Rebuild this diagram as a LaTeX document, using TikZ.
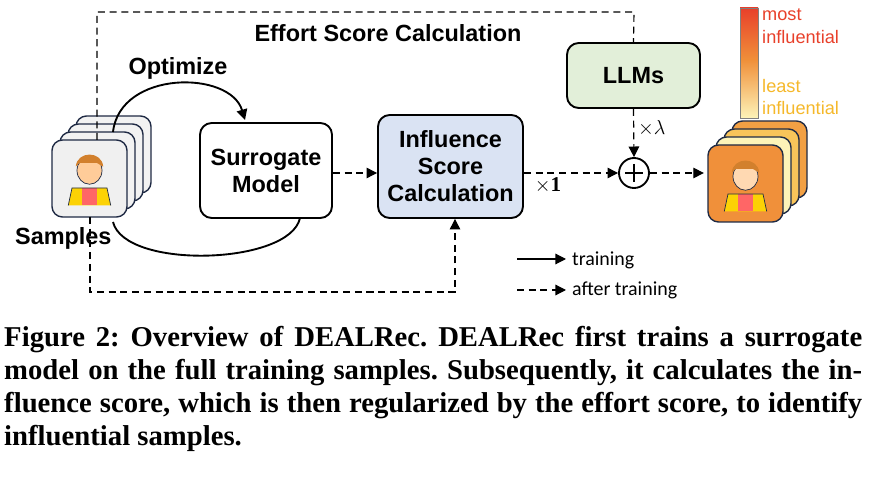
\documentclass[tikz,border=0pt]{standalone}
\usepackage{fontspec}
\setmainfont{Liberation Serif}
\setsansfont{Liberation Sans}
\newfontfamily\legfont{Carlito}
\usetikzlibrary{arrows.meta,calc}
\definecolor{navy}{HTML}{1F2A44}
\definecolor{llmg}{HTML}{E2EFD9}
\definecolor{infb}{HTML}{DAE3F3}
\definecolor{orgA}{HTML}{F0903A}
\definecolor{orgB}{HTML}{F8C45A}
\definecolor{orgC}{HTML}{FDF3B8}
\definecolor{mostc}{HTML}{E8402A}
\definecolor{leastc}{HTML}{F5B82A}
\begin{document}
\begin{tikzpicture}[x=0.03cm,y=-0.03cm,
  lbl/.style={font=\sffamily\bfseries\fontsize{20}{23}\selectfont},
  boxn/.style={draw=black,line width=1.6pt,rounded corners=10pt,align=center,lbl},
  card/.style={draw=navy,line width=1.2pt,rounded corners=9pt},
  dsh/.style={dashed,line width=1pt,dash pattern=on 6pt off 4pt},
  arr/.style={-{Triangle[length=9pt,width=9pt]}},
  legtxt/.style={font=\legfont\fontsize{17}{19}\selectfont,anchor=west}]
\useasboundingbox (0,0) rectangle (882,486);
% samples stack
\foreach \i in {3,2,1}{
  \draw[card,fill=gray!10] (52+8*\i,140-8*\i) rectangle (127+8*\i,217-8*\i);}
\draw[card,fill=gray!12] (52,140) rectangle (127,217);
\node (smp) at (89.5,178.5) {};
\begin{scope}[shift={(89.5,178)},scale=1.25]
\fill[yellow!70!orange] (-17,22) -- (-14,8) -- (14,8) -- (17,22) -- cycle;
\fill[red!60] (-6,8) -- (6,8) -- (6,22) -- (-6,22) -- cycle;
\draw[navy,line width=0.6pt] (-17,22) -- (-14,8) -- (14,8) -- (17,22);
\fill[orange!40!white] (0,-6) ellipse[x radius=10,y radius=11];
\draw[navy,line width=0.6pt] (0,-6) ellipse[x radius=10,y radius=11];
\fill[brown!70!orange] (-11,-9) .. controls (-10,-22) and (10,-22) .. (11,-9) -- (6,-12) -- (-8,-12) -- cycle;
\end{scope}
\node[lbl,anchor=west] (smplbl) at (11,238) {Samples};
% surrogate and influence
\node[boxn,fill=white,minimum width=132*0.03cm,minimum height=95*0.03cm] (sur) at (266,170.5) {Surrogate\\Model};
\node[boxn,fill=infb,minimum width=145*0.03cm,minimum height=103*0.03cm] (inf) at (450.5,166.5) {Influence\\Score\\Calculation};
\node[boxn,fill=llmg,minimum width=133*0.03cm,minimum height=65*0.03cm] (llm) at (633.5,75.5) {LLMs};
\node[circle,draw,line width=1.6pt,minimum size=30*0.03cm,inner sep=0] (plus) at (634,173) {};
\draw[line width=2pt] ($(plus)+(-9,0)$) -- ($(plus)+(9,0)$) ($(plus)+(0,-9)$) -- ($(plus)+(0,9)$);
% output stack
\foreach \i/\c in {3/orgA!70!orgB,2/orgB,1/orgC}{
  \draw[card,fill=\c] (708+8*\i,145-8*\i) rectangle (783+8*\i,222-8*\i);}
\draw[card,fill=orgA] (708,145) rectangle (783,222);
\node (out) at (708,173) {};
\begin{scope}[shift={(745.5,184)},scale=1.25]
\fill[yellow!70!orange] (-17,22) -- (-14,8) -- (14,8) -- (17,22) -- cycle;
\fill[red!60] (-6,8) -- (6,8) -- (6,22) -- (-6,22) -- cycle;
\draw[navy,line width=0.6pt] (-17,22) -- (-14,8) -- (14,8) -- (17,22);
\fill[orange!30!white] (0,-6) ellipse[x radius=10,y radius=11];
\draw[navy,line width=0.6pt] (0,-6) ellipse[x radius=10,y radius=11];
\fill[brown!70!orange] (-11,-9) .. controls (-10,-22) and (10,-22) .. (11,-9) -- (6,-12) -- (-8,-12) -- cycle;
\end{scope}
% colorbar
\shade[top color=mostc,bottom color=orgA] (740,8) rectangle (758,60);
\shade[top color=orgA,bottom color=orgC] (740,60) rectangle (758,118);
\draw[gray,line width=0.6pt] (740,8) rectangle (758,118);
\node[font=\sffamily\fontsize{15.5}{19}\selectfont,text=mostc,align=left,anchor=north west,inner sep=0] (mostl) at (762,9) {most\\influential};
\node[font=\sffamily\fontsize{15.5}{19}\selectfont,text=leastc,align=left,anchor=north west,inner sep=0] (leastl) at (762,79) {least\\influential};
% optimize loop
\node[lbl] (opt) at (178,68) {Optimize};
\draw[line width=1.6pt,arr] (113,132) .. controls (120,70) and (230,70) .. (245,120);
\draw[line width=1.6pt] (113,222) .. controls (125,270) and (290,265) .. (300,218);
\node[lbl] (eff) at (388,33) {Effort Score Calculation};
% dashed connectors
\coordinate (t1) at (97,12); \coordinate (t2) at (634,12);
\draw[dsh] (97,140) -- (t1) -- (t2) -- (llm.north);
\draw[dsh,arr] (llm.south) -- (plus.north);
\node[font=\fontsize{18}{20}\selectfont,anchor=west] (lam) at (634,128) {$\times\lambda$};
\draw[dsh,arr] (sur.east|-plus) -- (inf.west|-plus);
\draw[dsh,arr] (inf.east|-plus) -- (plus.west);
\node[font=\bfseries\fontsize{18}{20}\selectfont] (x1) at (548,185) {$\times\mathbf{1}$};
\draw[dsh,arr] (plus.east) -- (out.west);
\coordinate (b1) at (90,292); \coordinate (b2) at (455,292);
\draw[dsh,arr] (90,217) -- (b1) -- (b2) -- (inf.south-|b2);
% legend
\coordinate (l1) at (517,259); \coordinate (l2) at (566,259);
\draw[line width=1pt,arr] (l1) -- (l2);
\node[legtxt] (lt1) at (568,260) {training};
\coordinate (l3) at (517,290); \coordinate (l4) at (566,290);
\draw[dsh,arr] (l3) -- (l4);
\node[legtxt] (lt2) at (568,290) {after training};
% caption
\node[anchor=north west,inner sep=0,text width=858*0.03cm,align=justify,font=\bfseries\fontsize{24.5}{28.2}\selectfont] (cap) at (4,326)
{\frenchspacing Figure 2: Overview of DEALRec. DEALRec first trains a surrogate model on the full training samples. Subsequently, it calculates the influence score, which is then regularized by the effort score, to identify influential samples.};
\end{tikzpicture}
\end{document}
